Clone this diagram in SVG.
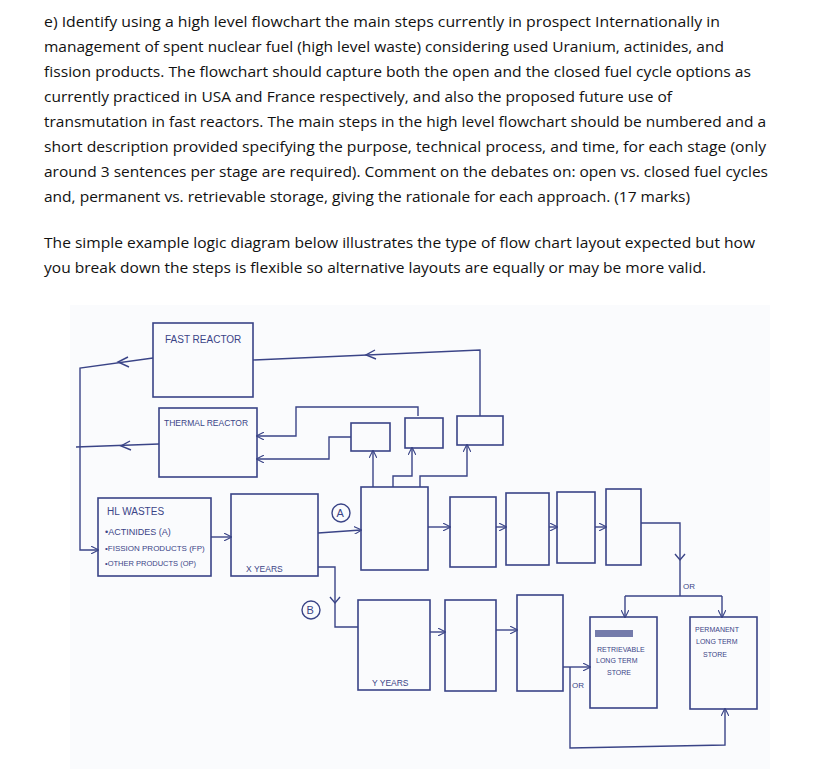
<svg xmlns="http://www.w3.org/2000/svg" width="831" height="769" viewBox="0 0 831 769">
<style>
.t{font-family:"Open Sans","Liberation Sans",sans-serif;font-size:15px;fill:#111}
.b{fill:none;stroke:#3a4487;stroke-width:1.6}
.c{fill:none;stroke:#3a4487;stroke-width:1.4}
.h{font-family:"Liberation Sans",sans-serif;fill:#3a4487}
</style>
<defs><marker id="a" viewBox="0 0 10 10" refX="9" refY="5" markerWidth="8" markerHeight="8" orient="auto" markerUnits="userSpaceOnUse"><path d="M0,0L10,5L0,10" fill="none" stroke="#3a4487" stroke-width="1.4"/></marker></defs>
<rect width="831" height="769" fill="#fff"/>
<g class="t">
<text x="44" y="27" textLength="676" lengthAdjust="spacingAndGlyphs">e) Identify using a high level flowchart the main steps currently in prospect Internationally in</text>
<text x="44" y="52" textLength="680" lengthAdjust="spacingAndGlyphs">management of spent nuclear fuel (high level waste) considering used Uranium, actinides, and</text>
<text x="44" y="77" textLength="707" lengthAdjust="spacingAndGlyphs">fission products. The flowchart should capture both the open and the closed fuel cycle options as</text>
<text x="44" y="102" textLength="628" lengthAdjust="spacingAndGlyphs">currently practiced in USA and France respectively, and also the proposed future use of</text>
<text x="44" y="127" textLength="722" lengthAdjust="spacingAndGlyphs">transmutation in fast reactors. The main steps in the high level flowchart should be numbered and a</text>
<text x="44" y="152" textLength="722" lengthAdjust="spacingAndGlyphs">short description provided specifying the purpose, technical process, and time, for each stage (only</text>
<text x="44" y="177" textLength="724" lengthAdjust="spacingAndGlyphs">around 3 sentences per stage are required). Comment on the debates on: open vs. closed fuel cycles</text>
<text x="44" y="202" textLength="646" lengthAdjust="spacingAndGlyphs">and, permanent vs. retrievable storage, giving the rationale for each approach. (17 marks)</text>
<text x="44" y="248" textLength="711" lengthAdjust="spacingAndGlyphs">The simple example logic diagram below illustrates the type of flow chart layout expected but how</text>
<text x="44" y="273" textLength="662" lengthAdjust="spacingAndGlyphs">you break down the steps is flexible so alternative layouts are equally or may be more valid.</text>
</g>
<rect x="70" y="305" width="700" height="464" fill="#fafbfd"/>
<g id="fast"><rect class="b" x="153" y="323" width="100" height="74"/><text class="h" x="165" y="343" font-size="10">FAST REACTOR</text></g>
<g id="thermal"><rect class="b" x="159" y="408" width="98" height="69"/><text class="h" x="164" y="426" font-size="8.5">THERMAL REACTOR</text></g>
<g id="hlw"><rect class="b" x="98" y="498" width="113" height="78"/>
<text class="h" x="107" y="515" font-size="10">HL WASTES</text>
<text class="h" x="105" y="535" font-size="9">•ACTINIDES (A)</text>
<text class="h" x="105" y="551" font-size="8">•FISSION PRODUCTS (FP)</text>
<text class="h" x="105" y="566" font-size="7.5">•OTHER PRODUCTS (OP)</text></g>
<g id="xyears"><rect class="b" x="231" y="494" width="87" height="82"/><text class="h" x="246" y="572" font-size="8.5">X YEARS</text></g>
<g id="boxA"><rect class="b" x="361" y="487" width="67" height="83"/></g>
<g id="s1"><rect class="b" x="351" y="423" width="39" height="28"/></g>
<g id="s2"><rect class="b" x="405" y="418" width="38" height="30"/></g>
<g id="s3"><rect class="b" x="457" y="416" width="46" height="29"/></g>
<g id="a1"><rect class="b" x="450" y="497" width="46" height="70"/></g>
<g id="a2"><rect class="b" x="506" y="493" width="43" height="72"/></g>
<g id="a3"><rect class="b" x="557" y="492" width="38" height="71"/></g>
<g id="a4"><rect class="b" x="606" y="489" width="35" height="76"/></g>
<g id="b1"><rect class="b" x="358" y="600" width="72" height="90"/><text class="h" x="372" y="686" font-size="8.5">Y YEARS</text></g>
<g id="b2"><rect class="b" x="445" y="600" width="51" height="91"/></g>
<g id="b3"><rect class="b" x="517" y="595" width="46" height="96"/></g>
<g id="retr"><rect class="b" x="590" y="617" width="67" height="91"/>
<rect x="595" y="630" width="38" height="7" fill="#3a4487" opacity="0.7"/>
<text class="h" x="597" y="652" font-size="7">RETRIEVABLE</text>
<text class="h" x="596" y="663" font-size="7">LONG TERM</text>
<text class="h" x="607" y="675" font-size="7">STORE</text></g>
<g id="perm"><rect class="b" x="690" y="617" width="67" height="92"/>
<text class="h" x="695" y="632" font-size="7">PERMANENT</text>
<text class="h" x="696" y="644" font-size="7">LONG TERM</text>
<text class="h" x="703" y="657" font-size="7">STORE</text></g>
<g id="labels">
<circle class="c" cx="341" cy="513" r="9"/><text class="h" x="336.5" y="517" font-size="11">A</text>
<circle class="c" cx="311" cy="610" r="9"/><text class="h" x="306.5" y="614" font-size="11">B</text>
<text class="h" x="683" y="589" font-size="8">OR</text>
<text class="h" x="572" y="688" font-size="8">OR</text>
</g>
<g id="connectors" class="c">
<path d="M153,358 L80,368 L80,550 L98,550" marker-end="url(#a)"/>
<path d="M128,357 L118,362 L129,367"/>
<path d="M159,444 L76,447"/>
<path d="M130,441 L121,446 L131,450"/>
<path d="M480,416 L480,350 L253,360"/>
<path d="M375,350 L366,355 L376,359"/>
<path d="M418,416 L418,407 L296,407 L296,436 L257,436" marker-end="url(#a)"/>
<path d="M351,437 L329,437 L329,459 L257,459" marker-end="url(#a)"/>
<path d="M373,487 L373,451" marker-end="url(#a)"/>
<path d="M393,487 L393,476 L412,476 L412,448" marker-end="url(#a)"/>
<path d="M420,487 L420,476 L467,476 L467,445" marker-end="url(#a)"/>
<path d="M211,537 L231,537" marker-end="url(#a)"/>
<path d="M318,533 L361,530" marker-end="url(#a)"/>
<path d="M428,527 L450,527" marker-end="url(#a)"/>
<path d="M496,527 L506,527" marker-end="url(#a)"/>
<path d="M549,527 L557,527" marker-end="url(#a)"/>
<path d="M595,527 L606,527" marker-end="url(#a)"/>
<path d="M641,523 L680,523 L680,596"/>
<path d="M675,554 L680,560 L685,554"/>
<path d="M625,596 L722,596"/>
<path d="M625,596 L625,617" marker-end="url(#a)"/>
<path d="M722,596 L722,617" marker-end="url(#a)"/>
<path d="M318,567 L335,567 L335,627 L358,627"/>
<path d="M330,597 L335,603 L340,597"/>
<path d="M430,632 L445,632" marker-end="url(#a)"/>
<path d="M496,630 L517,630" marker-end="url(#a)"/>
<path d="M563,667 L590,667" marker-end="url(#a)"/>
<path d="M570,667 L570,748 L725,745 L725,709" marker-end="url(#a)"/>
</g>
</svg>
